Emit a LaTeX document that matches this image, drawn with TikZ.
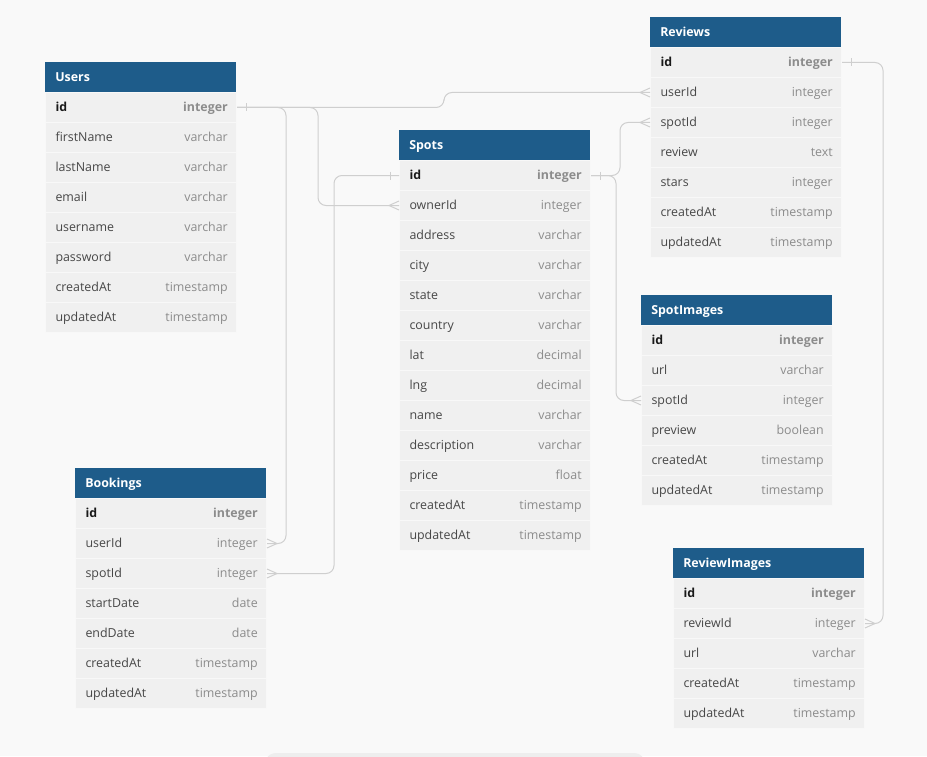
\documentclass[tikz,border=0pt]{standalone}
\usepackage{fontspec}
\setmainfont{Open Sans}
\usetikzlibrary{calc}

\definecolor{headblue}{HTML}{1E5C8A}
\definecolor{rowgray}{HTML}{F0F0F0}
\definecolor{rowline}{HTML}{F8F8F8}
\definecolor{pagebg}{HTML}{F9F9F9}
\definecolor{fieldtxt}{HTML}{474747}
\definecolor{typetxt}{HTML}{8C8C8C}
\definecolor{linkgray}{HTML}{CFCFCF}
\definecolor{toolbar}{HTML}{EEEEEE}

\tikzset{
    tblhead/.style={fill=headblue,text=white,font=\bfseries,anchor=north west,
        text width=128.25pt,inner xsep=7.5pt,inner ysep=0pt,minimum height=22.5pt,
        text height=1.6ex,text depth=.4ex,align=left},
    tblrow/.style={fill=rowgray,draw=rowline,line width=.75pt,text=fieldtxt,anchor=north west,
        text width=128.25pt,inner xsep=7.5pt,inner ysep=0pt,minimum height=22.5pt,
        text height=1.6ex,text depth=.4ex,align=left},
    tbltype/.style={text=typetxt,anchor=east,inner sep=0pt,text height=1.6ex,text depth=.4ex},
    conn/.style={draw=linkgray,line width=.75pt,rounded corners=6pt}
}

% table: name, x, y, title, field/type list
\newcommand{\erdtable}[5]{%
    \node[tblhead] (#1) at (#2,#3) {#4};
    \foreach \fld/\typ [count=\i] in {#5} {
        \node[tblrow] (#1-\fld) at ($(#2,#3)+(0,30*\i)$) {\ifnum\i=1\bfseries\color{black!90}\fi\fld};
        \node[tbltype] (#1-\fld-type) at ($(#1-\fld.east)+(-9,0)$) {\ifnum\i=1\bfseries\fi\typ};
    }
}
% relation ends: anchor, side (1 = right, -1 = left)
\newcommand{\onemark}[2]{\draw[conn] ($(#1)+(#2*9,-4)$) -- ($(#1)+(#2*9,4)$);}
\newcommand{\manymark}[2]{\draw[conn,sharp corners] ($(#1)+(0,-4.5)$) -- ($(#1)+(#2*10,0)$) -- ($(#1)+(0,4.5)$);}

\begin{document}
\begin{tikzpicture}[x=0.75pt,y=-0.75pt]
    \fontsize{9.3}{11}\selectfont
    \useasboundingbox (0,0) rectangle (927,756);
    \fill[pagebg] (0,0) rectangle (927,756);
    \fill[toolbar,rounded corners=8] (265,753) rectangle (645,772);

    \erdtable{users}{45}{62}{Users}{id/integer,firstName/varchar,lastName/varchar,email/varchar,
        username/varchar,password/varchar,createdAt/timestamp,updatedAt/timestamp}
    \erdtable{reviews}{650}{17}{Reviews}{id/integer,userId/integer,spotId/integer,review/text,
        stars/integer,createdAt/timestamp,updatedAt/timestamp}
    \erdtable{spots}{399}{130}{Spots}{id/integer,ownerId/integer,address/varchar,city/varchar,
        state/varchar,country/varchar,lat/decimal,lng/decimal,name/varchar,description/varchar,
        price/float,createdAt/timestamp,updatedAt/timestamp}
    \erdtable{spotimages}{641}{295}{SpotImages}{id/integer,url/varchar,spotId/integer,
        preview/boolean,createdAt/timestamp,updatedAt/timestamp}
    \erdtable{bookings}{75}{468}{Bookings}{id/integer,userId/integer,spotId/integer,startDate/date,
        endDate/date,createdAt/timestamp,updatedAt/timestamp}
    \erdtable{reviewimages}{673}{548}{ReviewImages}{id/integer,reviewId/integer,url/varchar,
        createdAt/timestamp,updatedAt/timestamp}

    % relations
    \draw[conn] (users-id.east) -- ++(207,0) |- (reviews-userId.west);
    \draw[conn] (users-id.east) -| ($(bookings-userId.east)+(19,0)$) -- (bookings-userId.east);
    \draw[conn] (users-id.east) -| ($(spots-ownerId.west)+(-81,0)$) -- (spots-ownerId.west);
    \draw[conn] (spots-id.west) -| ($(bookings-spotId.east)+(67,0)$) -- (bookings-spotId.east);
    \draw[conn] (spots-id.east) -| ($(reviews-spotId.west)+(-30,0)$) -- (reviews-spotId.west);
    \draw[conn] (spots-id.east) -| ($(spotimages-spotId.west)+(-25,0)$) -- (spotimages-spotId.west);
    \draw[conn] (reviews-id.east) -| ($(reviewimages-reviewId.east)+(18,0)$) -- (reviewimages-reviewId.east);

    \onemark{users-id.east}{1}
    \onemark{spots-id.west}{-1}
    \onemark{spots-id.east}{1}
    \onemark{reviews-id.east}{1}
    \manymark{reviews-userId.west}{-1}
    \manymark{reviews-spotId.west}{-1}
    \manymark{spots-ownerId.west}{-1}
    \manymark{spotimages-spotId.west}{-1}
    \manymark{bookings-userId.east}{1}
    \manymark{bookings-spotId.east}{1}
    \manymark{reviewimages-reviewId.east}{1}
\end{tikzpicture}
\end{document}
